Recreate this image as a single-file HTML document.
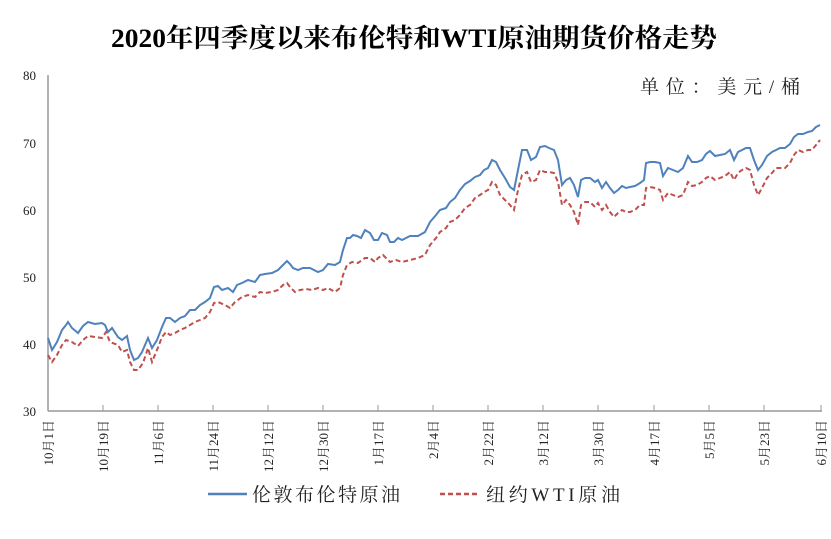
<!DOCTYPE html>
<html><head><meta charset="utf-8"><style>
body{margin:0;background:#fff;}
svg text{font-family:"Liberation Serif","Noto Serif CJK SC",serif;}
</style></head><body>
<svg width="831" height="534" xmlns="http://www.w3.org/2000/svg">
<rect width="831" height="534" fill="#fff"/>
<text x="414" y="47" text-anchor="middle" font-size="26" font-weight="bold" textLength="606" lengthAdjust="spacingAndGlyphs">2020年四季度以来布伦特和WTI原油期货价格走势</text>
<text x="640" y="93" font-size="19" fill="#222" textLength="160" lengthAdjust="spacing">单位：美元/桶</text>
<g font-size="13" fill="#222" text-anchor="end" style="font-family:'Liberation Sans',sans-serif">
<text x="36" y="80">80</text><text x="36" y="148">70</text><text x="36" y="215">60</text>
<text x="36" y="282">50</text><text x="36" y="349">40</text><text x="36" y="416">30</text>
</g>
<line x1="48" y1="75" x2="48" y2="411" stroke="#999" stroke-width="1.5"/>
<line x1="48" y1="411" x2="822" y2="411" stroke="#999" stroke-width="1.5"/>
<g stroke="#999" stroke-width="1">
<line x1="103" y1="405" x2="103" y2="411"/><line x1="158" y1="405" x2="158" y2="411"/><line x1="213" y1="405" x2="213" y2="411"/><line x1="268" y1="405" x2="268" y2="411"/><line x1="323" y1="405" x2="323" y2="411"/><line x1="378" y1="405" x2="378" y2="411"/><line x1="433" y1="405" x2="433" y2="411"/><line x1="488" y1="405" x2="488" y2="411"/><line x1="543" y1="405" x2="543" y2="411"/><line x1="598" y1="405" x2="598" y2="411"/><line x1="654" y1="405" x2="654" y2="411"/><line x1="709" y1="405" x2="709" y2="411"/><line x1="764" y1="405" x2="764" y2="411"/><line x1="821" y1="405" x2="821" y2="411"/>
</g>
<g font-size="13" fill="#222" text-anchor="end">
<text transform="translate(53,420) rotate(-90)">10月1日</text>
<text transform="translate(108,420) rotate(-90)">10月19日</text>
<text transform="translate(163,420) rotate(-90)">11月6日</text>
<text transform="translate(218,420) rotate(-90)">11月24日</text>
<text transform="translate(273,420) rotate(-90)">12月12日</text>
<text transform="translate(328,420) rotate(-90)">12月30日</text>
<text transform="translate(383,420) rotate(-90)">1月17日</text>
<text transform="translate(438,420) rotate(-90)">2月4日</text>
<text transform="translate(493,420) rotate(-90)">2月22日</text>
<text transform="translate(548,420) rotate(-90)">3月12日</text>
<text transform="translate(603,420) rotate(-90)">3月30日</text>
<text transform="translate(659,420) rotate(-90)">4月17日</text>
<text transform="translate(714,420) rotate(-90)">5月5日</text>
<text transform="translate(769,420) rotate(-90)">5月23日</text>
<text transform="translate(826,420) rotate(-90)">6月10日</text>
</g>
<polyline fill="none" stroke="#C0504D" stroke-width="2" stroke-dasharray="5,3" points="48,355 52,362 57,355 62,345 66,340 72,342 78,346 83,340 88,336 95,337 102,338 106,332 110,342 118,345 122,352 127,350 130,362 134,370 138,370 143,363 148,348 152,362 157,350 162,337 166,332 170,335 175,333 180,330 185,328 190,325 195,322 200,320 205,318 210,312 214,303 218,302 225,305 230,308 235,302 242,297 248,295 255,297 260,292 265,293 272,292 278,290 283,285 287,283 290,287 295,292 300,290 306,289 312,290 318,288 323,290 328,288 335,292 340,288 343,275 347,265 352,262 358,263 365,258 370,258 375,262 378,258 383,255 390,262 396,260 402,262 410,260 418,258 425,255 430,245 436,238 440,232 446,228 450,222 455,220 460,215 465,208 470,205 475,198 480,195 484,192 488,190 492,182 496,185 500,195 505,200 510,205 514,210 518,190 522,175 527,172 531,182 536,180 540,170 545,172 549,172 554,173 558,182 562,205 566,200 570,205 574,212 578,225 581,205 585,202 590,202 595,207 598,203 602,210 606,205 610,212 614,217 618,213 622,210 626,212 630,212 635,210 640,205 644,205 646,188 650,187 655,188 660,190 663,200 668,193 673,195 678,197 683,195 688,182 692,186 697,185 702,182 706,178 710,176 715,180 720,178 725,176 730,172 734,180 738,173 742,170 746,168 750,170 754,185 758,195 762,188 767,178 772,173 776,168 780,168 785,168 790,163 794,155 798,150 803,152 808,150 812,150 816,145 820,140"/>
<polyline fill="none" stroke="#4F81BD" stroke-width="2" points="48,338 52,350 57,342 62,330 66,325 68,322 72,328 78,333 83,326 88,322 95,324 102,323 105,325 108,332 112,328 118,337 122,340 127,336 130,350 134,360 138,358 142,352 148,338 152,348 157,340 162,327 166,318 170,318 175,322 180,318 185,316 190,310 195,310 200,305 205,302 210,298 214,287 218,286 222,290 228,288 233,292 237,285 242,283 248,280 255,282 260,275 265,274 272,273 278,270 283,265 287,261 290,264 293,268 298,270 303,268 310,268 318,272 323,270 328,264 335,265 340,262 343,250 347,238 350,238 353,235 357,236 361,238 365,230 370,233 374,240 378,240 382,233 387,235 390,242 394,242 398,238 402,240 410,236 418,236 425,232 430,222 436,215 440,210 446,208 450,202 455,198 460,190 465,184 470,181 475,177 480,175 484,170 488,168 492,160 496,162 500,170 505,178 510,187 514,190 518,170 522,150 527,150 531,160 536,157 540,147 545,146 549,148 554,150 558,160 562,185 566,180 570,178 574,185 578,197 581,180 585,178 590,178 595,182 598,180 602,188 606,182 610,188 614,193 618,190 622,186 626,188 630,187 635,186 640,183 644,180 646,163 650,162 655,162 660,163 663,176 668,168 673,170 678,172 683,168 688,156 692,162 697,162 702,160 706,154 710,151 715,156 720,155 725,154 730,150 734,160 738,152 742,150 746,148 750,148 754,160 758,170 762,165 767,156 772,152 776,150 780,148 785,148 790,144 794,137 798,134 803,134 808,132 812,131 816,127 820,125"/>
<line x1="208" y1="494" x2="247" y2="494" stroke="#4F81BD" stroke-width="2.5"/>
<text x="252" y="501" font-size="19" fill="#222" textLength="148" lengthAdjust="spacing">伦敦布伦特原油</text>
<line x1="440" y1="494" x2="479" y2="494" stroke="#C0504D" stroke-width="2.5" stroke-dasharray="5,3"/>
<text x="486" y="501" font-size="19" fill="#222" textLength="134" lengthAdjust="spacing">纽约WTI原油</text>
</svg>
</body></html>
